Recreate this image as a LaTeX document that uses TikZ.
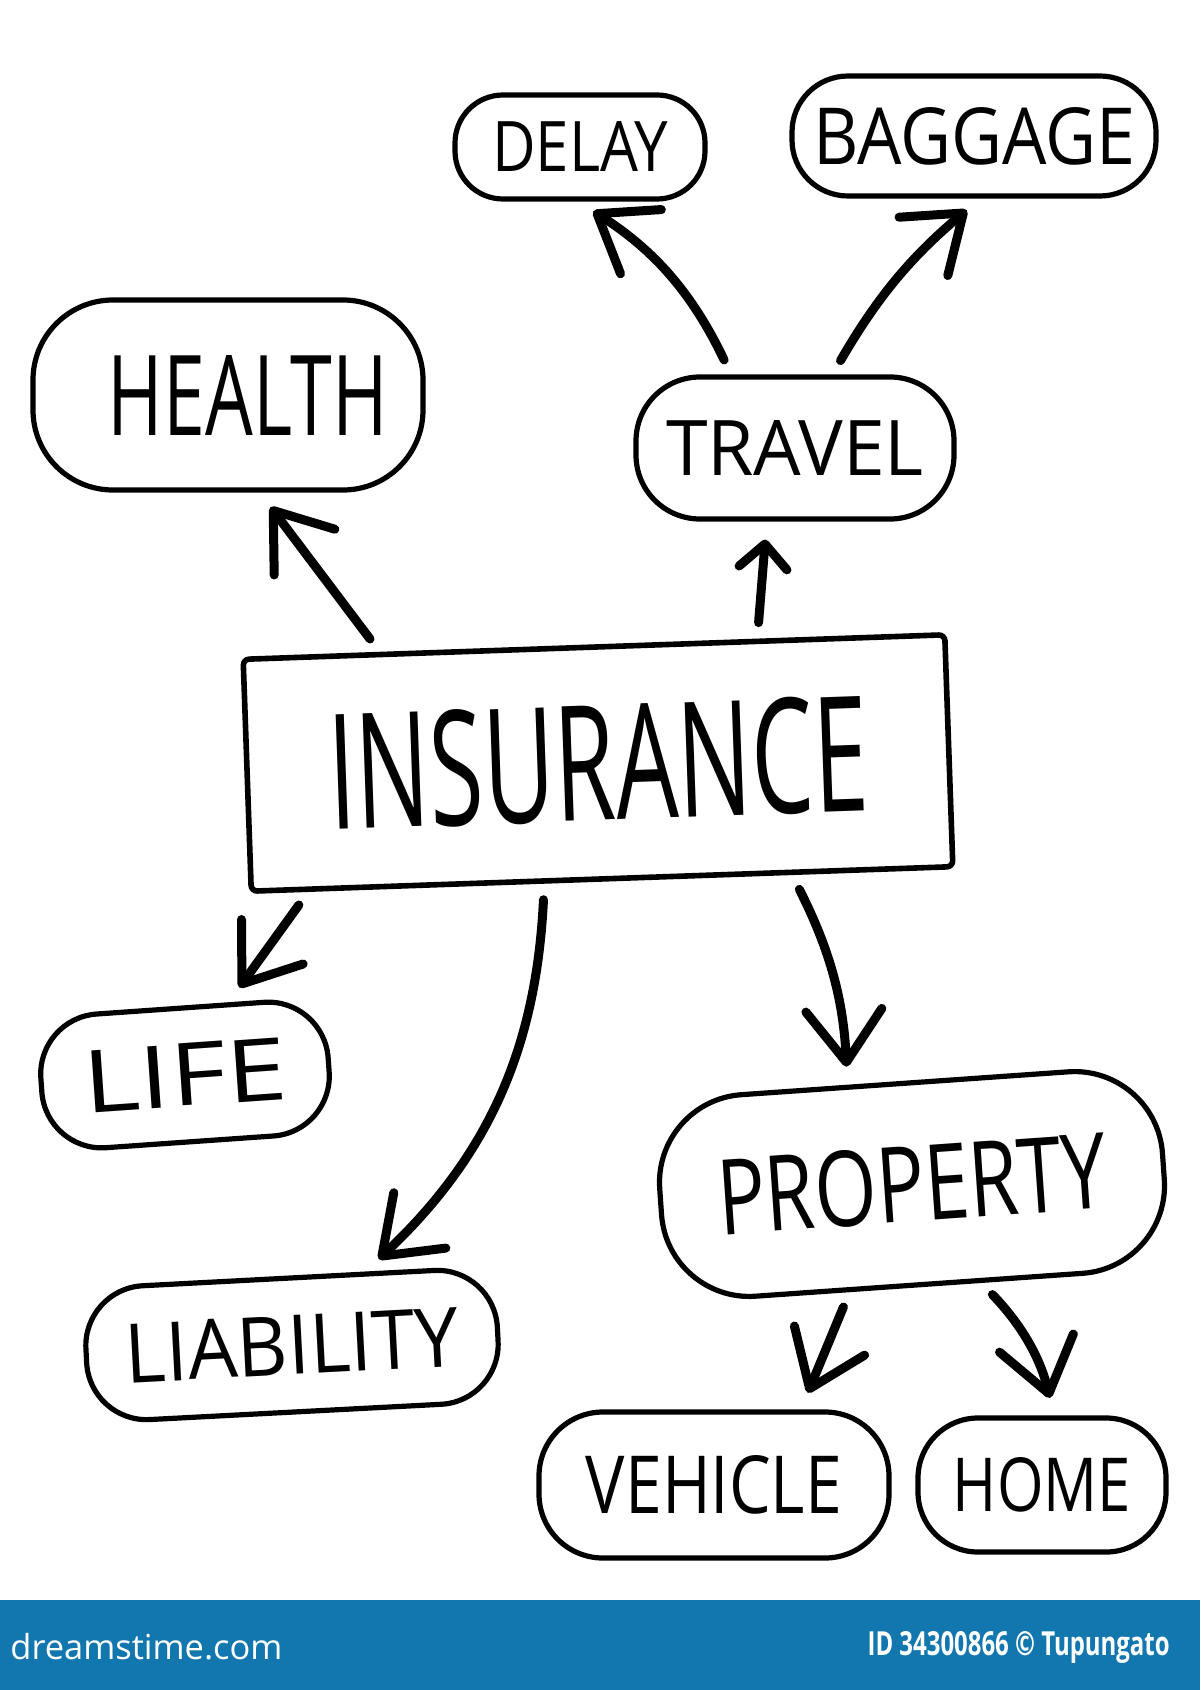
\documentclass[tikz,border=0pt]{standalone}
\usepackage{fontspec}
\usepackage{graphicx}
\usetikzlibrary{arrows.meta}
\newfontfamily\handfont{Open Sans}
\newfontfamily\footfont{Open Sans}
\definecolor{barblue}{HTML}{1377AF}
% hand lettering squeezed to the size it has in the sketch
\newcommand{\hand}[3]{\resizebox{#1}{#2}{\handfont #3}}

\begin{document}
\begin{tikzpicture}[x=0.5pt,y=-0.5pt,
  bubble/.style={draw, line width=2.6pt, rounded corners=#1, inner sep=0pt},
  bubble/.default=30pt,
  arr/.style={line width=4.5pt, line cap=round, -{Straight Barb[length=26pt,width=38pt,round]}, shorten <=8pt, shorten >=9pt}]
  \useasboundingbox (0,0) rectangle (1200,1690);

  \node[draw, line width=2.8pt, rounded corners=3pt, minimum width=351pt, minimum height=116pt, inner sep=0pt, rotate=2] (ins) at (598,763) {\hand{270pt}{58pt}{INSURANCE}};

  \node[bubble=40pt, minimum width=195pt, minimum height=95pt] (health) at (228,395) {\hspace*{20pt}\hand{140pt}{40pt}{HEALTH}};
  \node[bubble=24pt, minimum width=125pt, minimum height=52pt] (delay) at (580,147) {\hand{88pt}{25pt}{DELAY}};
  \node[bubble=28pt, minimum width=182pt, minimum height=60pt] (baggage) at (974,136) {\hand{161pt}{28.5pt}{BAGGAGE}};
  \node[bubble=32pt, minimum width=159pt, minimum height=71pt] (travel) at (795,448) {\hand{129pt}{27.5pt}{TRAVEL}};
  \node[bubble, minimum width=144pt, minimum height=67pt, rotate=4] (life) at (185,1075) {\hand{102pt}{31pt}{LIFE}};
  \node[bubble, minimum width=206pt, minimum height=67pt, rotate=3] (liability) at (292,1345) {\hand{167pt}{29.5pt}{LIABILITY}};
  \node[bubble=44pt, minimum width=252pt, minimum height=101pt, rotate=4] (property) at (912,1184) {\hand{195pt}{38pt}{PROPERTY}};
  \node[bubble=32pt, minimum width=175pt, minimum height=73pt] (vehicle) at (714,1485) {\hand{128pt}{29pt}{VEHICLE}};
  \node[bubble, minimum width=124pt, minimum height=67pt] (home) at (1042,1485) {\hand{89pt}{27pt}{HOME}};

  \draw[arr] (ins.151) -- (health.-72);
  \draw[arr, -{Straight Barb[length=12pt,width=24pt,round]}] (ins.36) -- (travel.-111);
  \draw[arr] (travel.131) to[bend right=16] (delay.-92);
  \draw[arr] (travel.63) to[bend left=10] (baggage.-84);
  \draw[arr] (ins.-158) -- (life.55);
  \draw[arr] (ins.-116) to[bend left=22] (liability.42);
  \draw[arr] (ins.-32) to[bend left=12] (property.119);
  \draw[arr] (property.-124) -- (vehicle.41);
  \draw[arr] (property.-59) to[bend left=15] (home.80);

  % footer strip
  \fill[barblue] (0,1600) rectangle (1200,1690);
  \node[text=white, anchor=west, inner sep=0pt] (brand) at (10,1647) {\resizebox{136pt}{!}{\footfont dreamstime.com}};
  \node[text=white, anchor=east, inner sep=0pt] (credit) at (1170,1647) {\resizebox{151pt}{12pt}{\footfont\bfseries ID 34300866 © Tupungato}};
\end{tikzpicture}
\end{document}
